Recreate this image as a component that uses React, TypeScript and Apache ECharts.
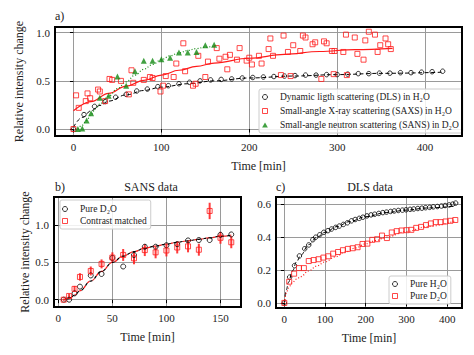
import React, { useEffect, useRef } from 'react';
import * as echarts from 'echarts';

const FONT = "'Liberation Serif', 'DejaVu Serif', serif";

// ---------- Panel a ----------
const dlsTimeA = [0, 12, 24, 36, 48, 60, 72, 84, 96, 108, 120, 132, 144, 156, 168, 180, 192, 204, 216, 228, 240, 252, 264, 276, 288, 300, 312, 324, 336, 348, 360, 372, 384, 396, 408, 420];
const dlsValA = [0, 0.15, 0.235, 0.285, 0.33, 0.36, 0.395, 0.415, 0.44, 0.45, 0.47, 0.485, 0.5, 0.51, 0.515, 0.52, 0.53, 0.535, 0.54, 0.545, 0.55, 0.555, 0.56, 0.56, 0.565, 0.565, 0.57, 0.575, 0.575, 0.58, 0.58, 0.585, 0.585, 0.59, 0.595, 0.6];
const dlsFitTimeA = [0, 10, 20, 30, 40, 60, 80, 100, 130, 160, 200, 250, 300, 350, 420];
const dlsFitValA = [0.02, 0.12, 0.19, 0.245, 0.29, 0.355, 0.4, 0.435, 0.47, 0.5, 0.53, 0.55, 0.565, 0.578, 0.59];

const saxsTime = [0, 3, 6, 14, 16, 19, 28, 30, 36, 41, 44, 54, 63, 66, 68, 80, 87, 90, 99, 102, 105, 114, 117, 125, 127, 136, 139, 142, 150, 153, 163, 166, 173, 175, 178, 186, 189, 197, 200, 203, 211, 214, 222, 224, 227, 236, 239, 244, 247, 250, 258, 261, 264, 272, 275, 282, 285, 288, 294, 296, 297, 307, 310, 311, 320, 323, 330, 332, 336, 343, 346, 349, 355, 358, 361];
const saxsVal = [0, 0.35, 0.22, 0.29, 0.37, 0.32, 0.41, 0.39, 0.29, 0.52, 0.51, 0.5, 0.36, 0.61, 0.48, 0.51, 0.54, 0.53, 0.39, 0.45, 0.55, 0.54, 0.68, 0.89, 0.6, 0.45, 0.47, 0.76, 0.54, 0.7, 0.84, 0.73, 0.75, 0.62, 0.77, 0.72, 0.84, 0.71, 0.74, 0.67, 0.76, 0.68, 0.83, 0.94, 0.76, 0.56, 0.97, 0.8, 0.55, 0.87, 0.81, 0.97, 0.95, 0.88, 0.9, 0.52, 0.91, 0.89, 0.81, 0.57, 0.81, 0.8, 0.98, 0.56, 0.95, 0.78, 0.72, 0.92, 1.01, 0.98, 0.8, 0.87, 0.94, 0.88, 0.83];
const saxsFitTime = [0, 20, 40, 60, 80, 100, 120, 140, 160, 200, 240, 280, 320, 363];
const saxsFitVal = [0.19, 0.285, 0.37, 0.445, 0.505, 0.56, 0.61, 0.65, 0.685, 0.735, 0.775, 0.805, 0.825, 0.838];

const sansTime = [5, 10, 15, 20, 30, 40, 50, 60, 70, 80, 90, 100, 110, 120, 130, 140, 150, 160];
const sansVal = [0, 0.005, 0.09, 0.165, 0.325, 0.345, 0.545, 0.45, 0.6, 0.71, 0.71, 0.725, 0.74, 0.795, 0.795, 0.8, 0.87, 0.875];
const sansFitTime = [5, 10, 15, 20, 25, 30, 40, 50, 60, 70, 80, 90, 100, 110, 120, 130, 140, 150, 160];
const sansFitVal = [0, 0.04, 0.09, 0.15, 0.21, 0.26, 0.34, 0.42, 0.49, 0.56, 0.62, 0.67, 0.72, 0.76, 0.79, 0.815, 0.835, 0.85, 0.86];

// ---------- Panel b ----------
const bTime = [5, 10, 15, 20, 30, 40, 50, 60, 70, 80, 90, 100, 110, 120, 130, 140, 150, 160];
const bPureD2O = [0, 0, 0.085, 0.175, 0.325, 0.345, 0.56, 0.445, 0.6, 0.71, 0.71, 0.73, 0.745, 0.795, 0.8, 0.8, 0.87, 0.875];
const bContrast = [0, 0.05, 0.145, 0.305, 0.385, 0.48, 0.565, 0.6, 0.555, 0.665, 0.635, 0.66, 0.7, 0.715, 0.67, 1.19, 0.83, 0.77];
const bContrastErr = [0.015, 0.03, 0.04, 0.05, 0.06, 0.06, 0.07, 0.08, 0.08, 0.08, 0.08, 0.08, 0.08, 0.08, 0.08, 0.11, 0.08, 0.08];
const bFitTime = [5, 10, 15, 20, 30, 40, 50, 60, 70, 80, 90, 100, 110, 120, 130, 140, 150, 160];
const bFitVal = [0, 0.015, 0.06, 0.12, 0.25, 0.38, 0.5, 0.585, 0.645, 0.69, 0.72, 0.745, 0.77, 0.79, 0.81, 0.83, 0.85, 0.865];

// ---------- Panel c ----------
const cH2OTime = [0, 13, 25, 37, 50, 60, 70, 77, 87, 97, 107, 116, 126, 135, 145, 155, 165, 174, 184, 193, 203, 213, 222, 232, 242, 251, 261, 270, 280, 290, 299, 309, 318, 328, 338, 347, 357, 366, 376, 386, 395, 405, 414, 421];
const cH2OVal = [0, 0.157, 0.227, 0.286, 0.33, 0.353, 0.385, 0.4, 0.415, 0.43, 0.44, 0.45, 0.46, 0.468, 0.478, 0.488, 0.5, 0.508, 0.515, 0.522, 0.53, 0.536, 0.54, 0.545, 0.55, 0.553, 0.557, 0.56, 0.563, 0.565, 0.567, 0.57, 0.572, 0.575, 0.577, 0.58, 0.582, 0.585, 0.587, 0.59, 0.593, 0.597, 0.602, 0.608];
const cD2OTime = [0, 12, 24, 36, 48, 60, 72, 84, 96, 108, 120, 132, 144, 156, 168, 180, 192, 204, 216, 228, 240, 252, 264, 276, 288, 300, 312, 324, 336, 348, 360, 372, 384, 396, 408, 420];
const cD2OVal = [0, 0.129, 0.178, 0.212, 0.212, 0.255, 0.261, 0.266, 0.276, 0.284, 0.3, 0.31, 0.321, 0.329, 0.333, 0.339, 0.359, 0.361, 0.384, 0.388, 0.41, 0.395, 0.429, 0.437, 0.441, 0.443, 0.445, 0.457, 0.463, 0.474, 0.484, 0.492, 0.492, 0.496, 0.5, 0.505];
const cH2OFitTime = [0, 5, 10, 20, 30, 40, 60, 80, 100, 130, 160, 200, 250, 300, 350, 420];
const cH2OFitVal = [0, 0.08, 0.125, 0.195, 0.25, 0.29, 0.355, 0.4, 0.43, 0.465, 0.495, 0.525, 0.55, 0.565, 0.578, 0.59];
const cD2OFitTime = [0, 5, 10, 20, 30, 40, 60, 80, 100, 125, 150, 175, 200, 225, 250, 300, 350, 420];
const cD2OFitVal = [0, 0.06, 0.09, 0.125, 0.145, 0.16, 0.195, 0.225, 0.25, 0.28, 0.31, 0.335, 0.36, 0.38, 0.4, 0.435, 0.465, 0.5];

const legendA = ['Dynamic ligth scattering (DLS) in H\u2082O', 'Small-angle X-ray scattering (SAXS) in H\u2082O', 'Small-angle neutron scattering (SANS) in D\u2082O'];
const legendB = ['Pure D\u2082O', 'Contrast matched'];
const legendC = ['Pure H\u2082O', 'Pure D\u2082O'];

const pairs = (xs: number[], ys: number[]) => xs.map((x, i) => [x, ys[i]]);

const GA = { left: 55, top: 27, width: 407, height: 109 };
const GB = { left: 54, top: 197, width: 187, height: 110 };
const GC = { left: 276, top: 197, width: 186, height: 111 };

const RED = '#ff1a1a';
const GREEN = '#138a13';
const SQUARE = 'path://M0,0L5,0L5,5L0,5Z';
const TRI = 'path://M3,0L6,5.2L0,5.2Z';
const TXT = '#222';

function xAx(gridIndex: number, min: number, max: number, step: number, ticks: number[]) {
  return {
    type: 'value', gridIndex, min, max, minInterval: step, maxInterval: step,
    name: 'Time [min]', nameLocation: 'middle', nameGap: 24,
    nameTextStyle: { fontFamily: FONT, fontSize: 12, fontWeight: 'normal', color: TXT },
    axisLine: { show: false },
    axisTick: { show: true, length: 3.5, lineStyle: { color: '#000', width: 1 }, customValues: ticks },
    axisLabel: { fontFamily: FONT, fontSize: 11, color: TXT, margin: 5, showMinLabel: false, showMaxLabel: false },
    splitLine: { show: true, lineStyle: { color: '#9a9a9a', width: 1 } },
  };
}
function yAx(gridIndex: number, min: number, max: number, step: number, ticks: number[], name: string) {
  return {
    type: 'value', gridIndex, min, max, minInterval: step, maxInterval: step,
    name, nameLocation: 'middle', nameGap: 19,
    nameTextStyle: { fontFamily: FONT, fontSize: 12, fontWeight: 'normal', color: TXT },
    axisLine: { show: false },
    axisTick: { show: true, length: 3.5, lineStyle: { color: '#000', width: 1 }, customValues: ticks },
    axisLabel: { fontFamily: FONT, fontSize: 11, color: TXT, margin: 5, showMinLabel: false, showMaxLabel: false, formatter: (v: number) => v.toFixed(1) },
    splitLine: { show: true, lineStyle: { color: '#9a9a9a', width: 1 } },
  };
}

const hollow = (c: string) => ({ color: 'transparent', borderColor: c, borderWidth: 1 });

function fitLine(name: string, xi: number, xs: number[], ys: number[], color: string, type: any, width = 1, extra: any = {}) {
  return {
    type: 'line', name, xAxisIndex: xi, yAxisIndex: xi, data: pairs(xs, ys), symbol: 'none', showSymbol: false,
    smooth: 0.4, smoothMonotone: 'x', silent: true, z: 2,
    lineStyle: { color, width, type, ...extra },
  };
}

function legendCfg(left: number, top: number, data: any[], gap: number, pad: number[]) {
  return {
    left, top, orient: 'vertical', data, selectedMode: false,
    itemWidth: 20, itemHeight: 5, itemGap: gap, padding: pad,
    backgroundColor: 'rgba(255,255,255,0.85)', borderColor: '#cccccc', borderWidth: 1, borderRadius: 2,
    textStyle: { fontFamily: FONT, fontSize: 9.5, fontWeight: 'normal', color: TXT },
  };
}

export default function App() {
  const ref = useRef<HTMLDivElement>(null);
  useEffect(() => {
    if (!ref.current) return;
    const chart = echarts.init(ref.current, undefined, { renderer: 'svg' });
    const frame = (g: any) => ({ type: 'rect', z: 100, silent: true, shape: { x: g.left, y: g.top, width: g.width, height: g.height }, style: { fill: 'none', stroke: '#000', lineWidth: 2 } });
    const label = (text: string, x: number, y: number, align: string) => ({ type: 'text', z: 100, x, y, style: { text, fontFamily: FONT, fontSize: 12, fontWeight: 'normal', fill: TXT, align, verticalAlign: 'middle' } });
    const option: any = {
      animation: false,
      backgroundColor: '#fff',
      grid: [
        { ...GA, outerBoundsMode: 'none' },
        { ...GB, outerBoundsMode: 'none' },
        { ...GC, outerBoundsMode: 'none' },
      ],
      xAxis: [
        xAx(0, -21, 442, 100, [0, 100, 200, 300, 400]),
        xAx(1, -4, 169, 50, [0, 50, 100, 150]),
        xAx(2, -20.5, 436.5, 100, [0, 100, 200, 300, 400]),
      ],
      yAxis: [
        yAx(0, -0.072, 1.059, 0.5, [0, 0.5, 1], 'Relative intensity change'),
        yAx(1, -0.098, 1.377, 0.5, [0, 0.5, 1], 'Relative intensity change'),
        yAx(2, -0.031, 0.645, 0.2, [0, 0.2, 0.4, 0.6], ''),
      ],
      legend: [
        legendCfg(259, 89, [
          { name: legendA[0], icon: 'circle', itemStyle: hollow('#000') },
          { name: legendA[1], icon: SQUARE, itemStyle: hollow(RED) },
          { name: legendA[2], icon: TRI, itemStyle: { color: GREEN, borderWidth: 0 } },
        ], 4, [3, 4, 3, 3]),
        legendCfg(60, 200, [
          { name: legendB[0], icon: 'circle', itemStyle: hollow('#000') },
          { name: legendB[1], icon: SQUARE, itemStyle: hollow(RED) },
        ], 2, [4, 4, 3, 2]),
        legendCfg(389, 276, [
          { name: legendC[0], icon: 'circle', itemStyle: hollow('#000') },
          { name: legendC[1], icon: SQUARE, itemStyle: hollow(RED) },
        ], 2, [3, 4, 3, 3]),
      ],
      graphic: [
        frame(GA), frame(GB), frame(GC),
        label('a)', 55, 16, 'left'),
        label('b)', 55, 187, 'left'),
        label('SANS data', 151, 187, 'center'),
        label('c)', 276, 187, 'left'),
        label('DLS data', 370, 187, 'center'),
      ],
      series: [
        // panel a
        fitLine('dlsFitA', 0, dlsFitTimeA, dlsFitValA, '#000', [4, 2.5], 1),
        fitLine('saxsFit', 0, saxsFitTime, saxsFitVal, RED, 'solid', 1.2),
        fitLine('sansFit', 0, sansFitTime, sansFitVal, GREEN, [1, 2], 1.2),
        { type: 'scatter', name: legendA[0], xAxisIndex: 0, yAxisIndex: 0, data: pairs(dlsTimeA, dlsValA), symbol: 'circle', symbolSize: 4.5, itemStyle: hollow('#000'), z: 3 },
        { type: 'scatter', name: legendA[1], xAxisIndex: 0, yAxisIndex: 0, data: pairs(saxsTime, saxsVal), symbol: 'rect', symbolSize: 5, itemStyle: hollow(RED), z: 3 },
        { type: 'scatter', name: legendA[2], xAxisIndex: 0, yAxisIndex: 0, data: pairs(sansTime, sansVal), symbol: 'triangle', symbolSize: 6, itemStyle: { color: GREEN }, z: 3 },
        // panel b
        fitLine('bFitRed', 1, bFitTime, bFitVal, RED, [3, 3], 1.2),
        fitLine('bFitBlack', 1, bFitTime, bFitVal, '#000', [3, 3], 1.2, { dashOffset: 3 }),
        {
          type: 'custom', name: 'errorbars', xAxisIndex: 1, yAxisIndex: 1, silent: true, z: 2,
          data: bTime.map((t, i) => [t, bContrast[i] - bContrastErr[i], bContrast[i] + bContrastErr[i]]),
          encode: { x: 0, y: [1, 2] },
          renderItem: (_p: any, api: any) => {
            const a = api.coord([api.value(0), api.value(1)]);
            const b = api.coord([api.value(0), api.value(2)]);
            return { type: 'line', shape: { x1: a[0], y1: a[1], x2: b[0], y2: b[1] }, style: { stroke: RED, lineWidth: 2, opacity: 0.85 } };
          },
        },
        { type: 'scatter', name: legendB[0], xAxisIndex: 1, yAxisIndex: 1, data: pairs(bTime, bPureD2O), symbol: 'circle', symbolSize: 5, itemStyle: hollow('#000'), z: 3 },
        { type: 'scatter', name: legendB[1], xAxisIndex: 1, yAxisIndex: 1, data: pairs(bTime, bContrast), symbol: 'rect', symbolSize: 5, itemStyle: hollow(RED), z: 3 },
        // panel c
        fitLine('cH2OFit', 2, cH2OFitTime, cH2OFitVal, '#000', [4, 2.5], 1),
        fitLine('cD2OFit', 2, cD2OFitTime, cD2OFitVal, RED, [1, 2], 1.2),
        { type: 'scatter', name: legendC[0], xAxisIndex: 2, yAxisIndex: 2, data: pairs(cH2OTime, cH2OVal), symbol: 'circle', symbolSize: 4.5, itemStyle: hollow('#000'), z: 3 },
        { type: 'scatter', name: legendC[1], xAxisIndex: 2, yAxisIndex: 2, data: pairs(cD2OTime, cD2OVal), symbol: 'rect', symbolSize: 5, itemStyle: hollow(RED), z: 3 },
      ],
    };
    chart.setOption(option);
    return () => chart.dispose();
  }, []);
  return <div ref={ref} style={{ position: 'fixed', left: 0, top: 0, width: 474, height: 355, background: '#fff' }} />;
}
